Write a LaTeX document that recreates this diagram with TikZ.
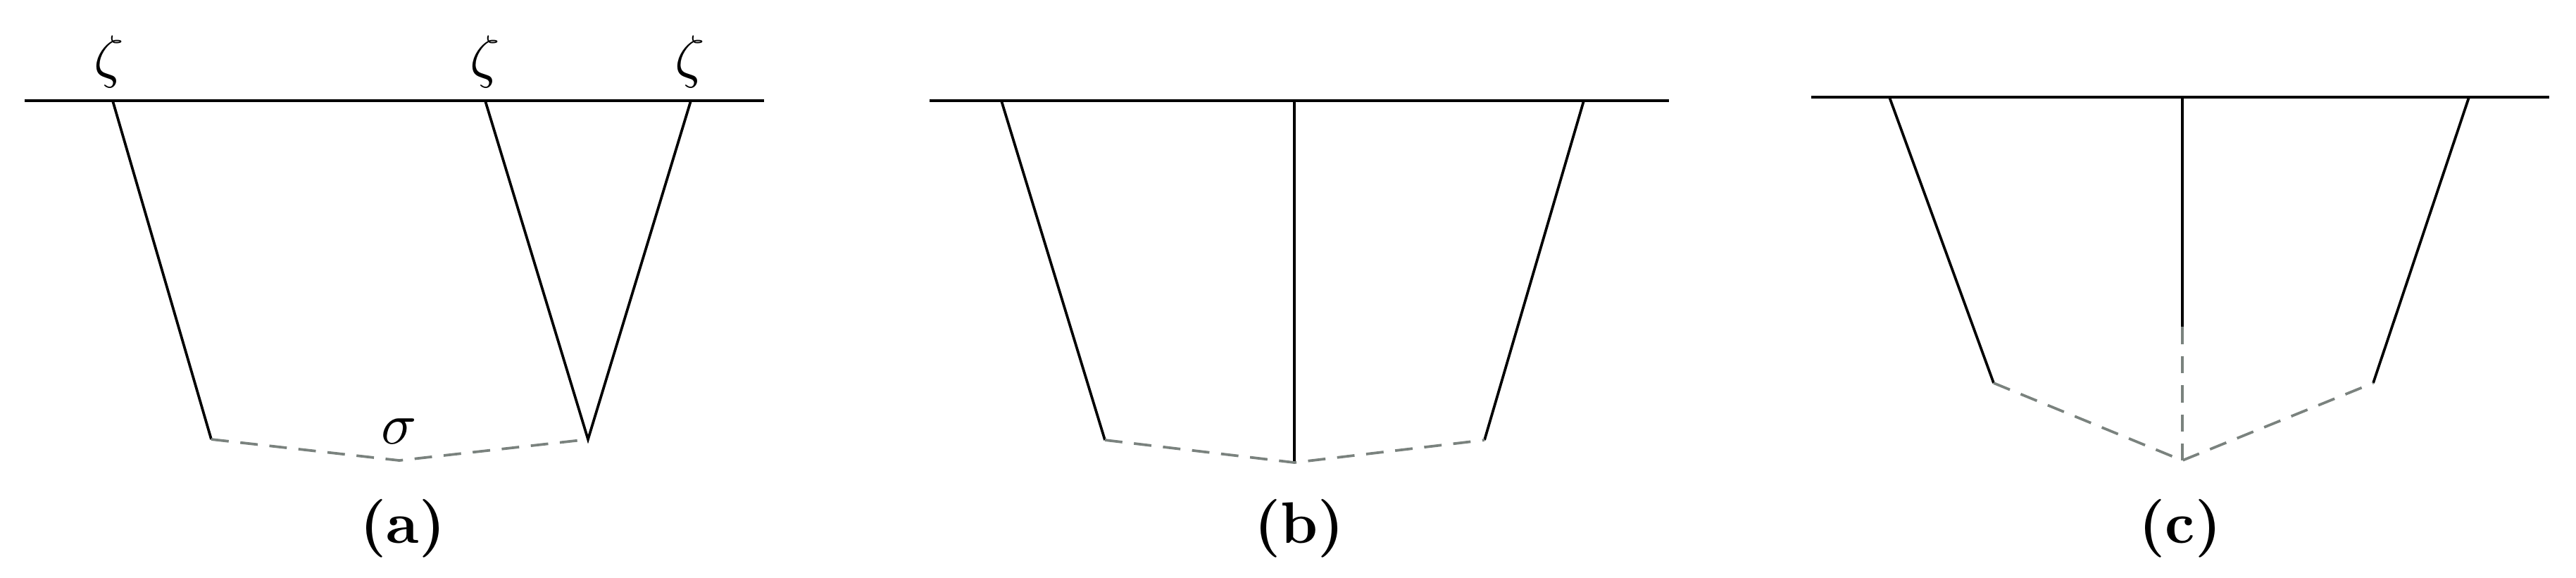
\documentclass[tikz,border=0pt]{standalone}
\usepackage{amsmath}
\usepackage{amssymb}
\usepackage{tikz}
\usepackage{xcolor}
\definecolor{ghostgray}{RGB}{122,130,126}
\tikzset{wall/.style={line width=0.45pt},
 ghost/.style={draw=ghostgray, line width=0.45pt, dash pattern=on 3pt off 2pt},
 lbl/.style={anchor=base, inner sep=0pt},
 }

\begin{document}
\begin{tikzpicture}[x=0.4234cm, y=-0.4234cm]
        \useasboundingbox (0,0) rectangle (36.58,8.20);
        % (a)
        \coordinate (al) at (.35, 1.43);
        \coordinate (ar) at (10.85, 1.43);
        \coordinate (a1) at (1.60, 1.43);
        \coordinate (a2) at (6.89, 1.43);
        \coordinate (a3) at (9.81, 1.43);
        \coordinate (a1b) at (3.00, 6.24);
        \coordinate (a2b) at (8.35, 6.24);
        \coordinate (am) at (5.67, 6.54);
        \draw [wall] (al) -- (ar);
        \draw [wall] (a1) -- (a1b);
        \draw [wall] (a2) -- (a2b) -- (a3);
        \draw [ghost] (a1b) -- (am) -- (a2b);
        \node [lbl] (za1) at (1.55, 1.08) {$\zeta$};
        \node [lbl] (za2) at (6.89, 1.08) {$\zeta$};
        \node [lbl] (za3) at (9.80, 1.08) {$\zeta$};
        \node [lbl] (sa) at (5.67, 6.30) {$\sigma$};
        \node [lbl] (capa) at (5.72, 7.71) {\textbf{(a)}};
        % (b)
        \coordinate (bl) at (13.20, 1.43);
        \coordinate (br) at (23.70, 1.43);
        \coordinate (b1) at (14.22, 1.43);
        \coordinate (b2) at (18.38, 1.43);
        \coordinate (b3) at (22.49, 1.43);
        \coordinate (b1b) at (15.69, 6.25);
        \coordinate (b2b) at (18.38, 6.57);
        \coordinate (b3b) at (21.08, 6.25);
        \draw [wall] (bl) -- (br);
        \draw [wall] (b1) -- (b1b);
        \draw [wall] (b2) -- (b2b);
        \draw [wall] (b3) -- (b3b);
        \draw [ghost] (b1b) -- (b2b) -- (b3b);
        \node [lbl] (capb) at (18.45, 7.71) {\textbf{(b)}};
        % (c)
        \coordinate (cl) at (25.72, 1.38);
        \coordinate (cr) at (36.20, 1.38);
        \coordinate (c1) at (26.83, 1.38);
        \coordinate (c2) at (30.99, 1.38);
        \coordinate (c3) at (35.06, 1.38);
        \coordinate (c1b) at (28.31, 5.44);
        \coordinate (c2m) at (30.99, 4.64);
        \coordinate (c2b) at (30.99, 6.54);
        \coordinate (c3b) at (33.70, 5.44);
        \draw [wall] (cl) -- (cr);
        \draw [wall] (c1) -- (c1b);
        \draw [wall] (c2) -- (c2m);
        \draw [wall] (c3) -- (c3b);
        \draw [ghost] (c2m) -- (c2b);
        \draw [ghost] (c1b) -- (c2b) -- (c3b);
        \node [lbl] (capc) at (30.96, 7.71) {\textbf{(c)}};
    \end{tikzpicture}
\end{document}
